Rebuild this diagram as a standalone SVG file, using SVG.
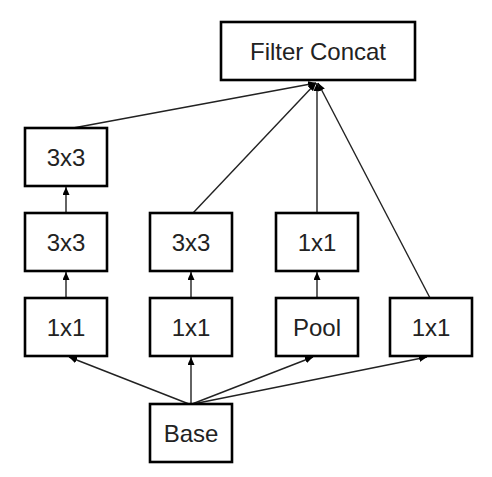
<svg xmlns="http://www.w3.org/2000/svg" width="492" height="477" viewBox="0 0 492 477">
<style>
.box{fill:#fff;stroke:#000;stroke-width:2.6}
.lbl{font-family:"Liberation Sans",Arial,sans-serif;font-size:24px;fill:#222;text-anchor:middle}
.edge{stroke:#222;stroke-width:1.4;fill:none;marker-end:url(#ah)}
</style>
<defs>
<marker id="ah" markerUnits="userSpaceOnUse" markerWidth="9" markerHeight="7" refX="8" refY="3.5" orient="auto">
<path d="M0,0 L8,3.5 L0,7 z" fill="#000"/>
</marker>
</defs>
<rect width="492" height="477" fill="#fff"/>
<g id="connectors">
<line class="edge" x1="189" y1="404" x2="69" y2="357"/>
<line class="edge" x1="191" y1="404" x2="191" y2="357"/>
<line class="edge" x1="192" y1="404" x2="313" y2="357"/>
<line class="edge" x1="193" y1="404" x2="427" y2="357"/>
<line class="edge" x1="66" y1="298" x2="66" y2="272"/>
<line class="edge" x1="66" y1="213" x2="66" y2="187"/>
<line class="edge" x1="191" y1="298" x2="191" y2="272"/>
<line class="edge" x1="317" y1="298" x2="317" y2="272"/>
<line class="edge" x1="73" y1="128" x2="316" y2="83"/>
<line class="edge" x1="193" y1="213" x2="316" y2="83"/>
<line class="edge" x1="317" y1="213" x2="317" y2="83"/>
<line class="edge" x1="430" y1="298" x2="318" y2="83"/>
</g>
<g id="filter-concat"><rect class="box" x="221" y="22" width="194" height="58"/><text class="lbl" x="318" y="59.5">Filter Concat</text></g>
<g id="c1-3x3b"><rect class="box" x="25" y="128" width="82" height="58"/><text class="lbl" x="66" y="165.5">3x3</text></g>
<g id="c1-3x3a"><rect class="box" x="25" y="213" width="82" height="58"/><text class="lbl" x="66" y="250.5">3x3</text></g>
<g id="c1-1x1"><rect class="box" x="25" y="298" width="82" height="58"/><text class="lbl" x="66" y="335.5">1x1</text></g>
<g id="c2-3x3"><rect class="box" x="150" y="213" width="82" height="58"/><text class="lbl" x="191" y="250.5">3x3</text></g>
<g id="c2-1x1"><rect class="box" x="150" y="298" width="82" height="58"/><text class="lbl" x="191" y="335.5">1x1</text></g>
<g id="c3-1x1"><rect class="box" x="276" y="213" width="82" height="58"/><text class="lbl" x="317" y="250.5">1x1</text></g>
<g id="c3-pool"><rect class="box" x="276" y="298" width="82" height="58"/><text class="lbl" x="317" y="335.5">Pool</text></g>
<g id="c4-1x1"><rect class="box" x="390" y="298" width="82" height="58"/><text class="lbl" x="431" y="335.5">1x1</text></g>
<g id="base"><rect class="box" x="150" y="404" width="82" height="58"/><text class="lbl" x="191" y="441.5">Base</text></g>
</svg>
